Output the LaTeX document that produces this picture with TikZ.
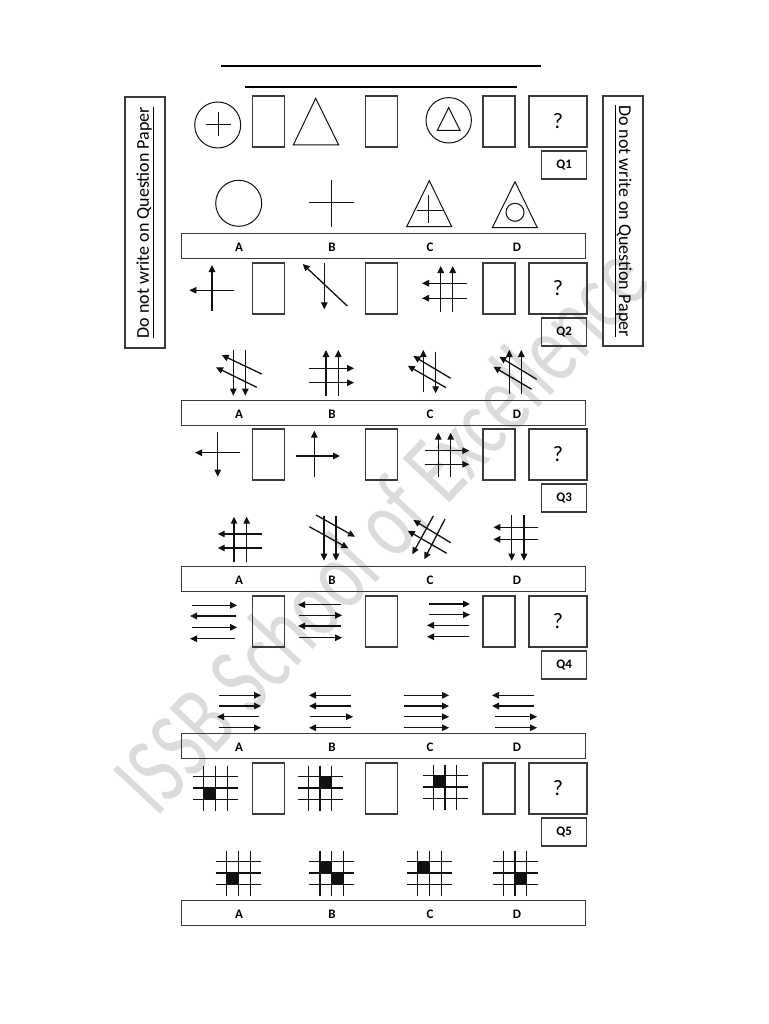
\documentclass[tikz,border=0pt]{standalone}
\usepackage{fontspec}
\setmainfont{Carlito}
\usetikzlibrary{arrows.meta}
\definecolor{ink}{HTML}{111111}
\definecolor{rule}{HTML}{3A3A3A}
\definecolor{wmark}{HTML}{DCDCDC}
\tikzset{
  fig/.style={draw=ink,line width=1.3pt},
  thinfig/.style={draw=ink,line width=1pt},
  arr/.style={fig,-{Triangle[length=7pt,width=6.5pt]}},
  blank/.style={draw=rule,line width=1.1pt,inner sep=0pt},
}
\begin{document}
\begin{tikzpicture}[x=1pt,y=-1pt,font=\fontsize{13}{15}\selectfont]
  \useasboundingbox[fill=white] (0,0) rectangle (768,1024);
  % watermark
  \node[text=wmark,rotate=47,xscale=0.72,font=\fontsize{100}{100}\selectfont] (wm) at (380,528)
    {ISSB School of Excellence};
  % name lines
  \draw[line width=1.8pt] (221,66) -- (541,66);
  \draw[line width=1.8pt] (245,87) -- (517,87);
  % side notes
  \node[blank,rotate=90,minimum width=251pt,minimum height=40pt,font=\fontsize{18}{20}\selectfont]
    (noteL) at (145,222.5) {\underline{Do not write on Question Paper}};
  \node[blank,rotate=-90,minimum width=250pt,minimum height=40pt,font=\fontsize{18}{20}\selectfont]
    (noteR) at (623,221) {\underline{Do not write on Question Paper}};
  % frames of every question
  \foreach \q/\t in {1/96,2/263,3/429,4/596,5/763}{
    \foreach \x [count=\i] in {268.5,381.5,499}
      \node[blank,minimum width=32pt,minimum height=51pt] (gap\q\i) at (\x,\t+25.5) {};
    \node[blank,minimum width=58pt,minimum height=51pt,font=\fontsize{22}{24}\selectfont]
      (ask\q) at (558,\t+25.5) {?};
    \node[blank,minimum width=45pt,minimum height=28pt,font=\bfseries\fontsize{13}{15}\selectfont]
      (tag\q) at (564.2,\t+69) {Q\q};
    \node[blank,minimum width=404pt,minimum height=25.5pt] (bar\q) at (383.8,\t+150) {};
    \foreach \l/\x in {A/239,B/332,C/430,D/517}
      \node[font=\bfseries\fontsize{13}{15}\selectfont] (opt\q\l) at (\x,\t+151) {\l};
  }
  % Q1
  \draw[thinfig] (217.7,125) circle (23pt);
  \draw[thinfig] (206,125) -- (231,125) (218.3,112) -- (218.3,136);
  \draw[thinfig] (315.7,98.3) -- (338.7,145) -- (293.3,145) -- cycle;
  \draw[thinfig] (448.7,120.3) circle (22.7pt);
  \draw[thinfig] (448.7,107.7) -- (460,130.3) -- (437.3,130.3) -- cycle;
  \draw[thinfig] (238.7,203.3) circle (23pt);
  \draw[thinfig] (309.3,202.7) -- (354,202.7) (331.7,180) -- (331.7,226.7);
  \draw[thinfig] (429.3,180.7) -- (451.7,226.7) -- (406.7,226.7) -- cycle;
  \draw[thinfig] (417.3,210.3) -- (444,210.3) (428.7,195) -- (428.7,222.7);
  \draw[thinfig] (515,181.7) -- (537.3,227.7) -- (492.3,227.7) -- cycle;
  \draw[thinfig] (515,212.3) circle (9pt);
  % Q2
  \draw[arr] (212,310.7) -- (212,265);
  \draw[arr] (234,290.3) -- (189.3,290.3);
  \draw[arr] (347.3,306) -- (302.7,264);
  \draw[arr] (324.3,263.3) -- (324.3,309.3);
  \foreach \x in {440.7,452.7} \draw[arr] (\x,311.7) -- (\x,266);
  \foreach \y in {283.3,298.3} \draw[arr] (466.7,\y) -- (422,\y);
  \foreach \x in {233.3,245.3} \draw[arr] (\x,350) -- (\x,395.7);
  \draw[arr] (261.7,374) -- (221.7,355);
  \draw[arr] (256.7,387.3) -- (216,367.3);
  \foreach \x in {326,338.3} \draw[arr] (\x,395.7) -- (\x,350);
  \foreach \y in {368.3,382.7} \draw[arr] (309.3,\y) -- (354,\y);
  \draw[arr] (423.3,392.3) -- (423.3,350);
  \draw[arr] (435.7,351.7) -- (435.7,393.3);
  \draw[arr] (450.7,378.3) -- (413.3,356);
  \draw[arr] (446,387.7) -- (407.7,365.7);
  \foreach \x in {509.3,521.3} \draw[arr] (\x,394) -- (\x,350);
  \draw[arr] (536.7,379.3) -- (499.3,356.7);
  \draw[arr] (531.7,389.3) -- (493.3,366.7);
  % Q3
  \draw[arr] (217.7,431.7) -- (217.7,476.7);
  \draw[arr] (240,452.7) -- (195,452.7);
  \draw[arr] (314.3,476.7) -- (314.3,430.7);
  \draw[arr] (295.7,456) -- (340,456);
  \foreach \x in {438.3,450.7} \draw[arr] (\x,477.3) -- (\x,432.7);
  \foreach \y in {450.7,464.3} \draw[arr] (425,\y) -- (469.3,\y);
  \foreach \x in {234,246.7} \draw[arr] (\x,562.3) -- (\x,516.7);
  \foreach \y in {534,548} \draw[arr] (262.3,\y) -- (217.7,\y);
  \foreach \x in {324,336} \draw[arr] (\x,515.7) -- (\x,560.7);
  \draw[arr] (316,515) -- (355,536.7);
  \draw[arr] (309.3,526.7) -- (348.3,548.3);
  \draw[arr] (433.3,516) -- (412.3,554.3);
  \draw[arr] (445,519) -- (424.3,559.3);
  \draw[arr] (450.7,542.7) -- (413.3,520);
  \draw[arr] (446.7,553.3) -- (407.7,530.7);
  \foreach \x in {511.7,524} \draw[arr] (\x,515) -- (\x,560.7);
  \foreach \y in {527.3,539.3} \draw[arr] (538.3,\y) -- (493.3,\y);
  % Q4
  \foreach \y/\a/\b in {605.3/192/237,616/236/190,627.3/192/237,638.7/235/190,
                        604.7/341/298,615.3/299/342,626/341/298,637.7/299/342,
                        604/429/470,614.7/429/470,625.3/469/427,636.7/469/427,
                        695.3/219/261,706/219/261,716.7/259/217,727.7/219/261,
                        695.3/351/309,706/351/309,716.7/310/353,727.7/351/309,
                        695.3/404/449,706/404/449,716.7/404/449,727.7/404/449,
                        695.3/534/492,706/534/492,716.7/495/537,727.7/495/537}
    \draw[arr] (\a,\y) -- (\b,\y);
  % Q5
  \foreach \cx/\cy in {215.5/788,320/788,445/787,238.3/873,331.7/873,429.3/873,515/873}{
    \foreach \k in {-1,0,1}{
      \draw[fig,line width=1.2pt] (\cx+\k*11.8,\cy-22.5) -- (\cx+\k*11.8,\cy+22.5);
      \draw[fig,line width=1.2pt] (\cx-22.5,\cy+\k*11.8) -- (\cx+22.5,\cy+\k*11.8);
    }
  }
  \fill[ink] (215.5-11.8,788) rectangle ++(11.8,11.8);
  \fill[ink] (320,788-11.8) rectangle ++(11.8,11.8);
  \fill[ink] (445-11.8,787-11.8) rectangle ++(11.8,11.8);
  \fill[ink] (238.3-11.8,873) rectangle ++(11.8,11.8);
  \fill[ink] (331.7-11.8,873-11.8) rectangle ++(11.8,11.8);
  \fill[ink] (331.7,873) rectangle ++(11.8,11.8);
  \fill[ink] (429.3-11.8,873-11.8) rectangle ++(11.8,11.8);
  \fill[ink] (515,873) rectangle ++(11.8,11.8);
\end{tikzpicture}
\end{document}
